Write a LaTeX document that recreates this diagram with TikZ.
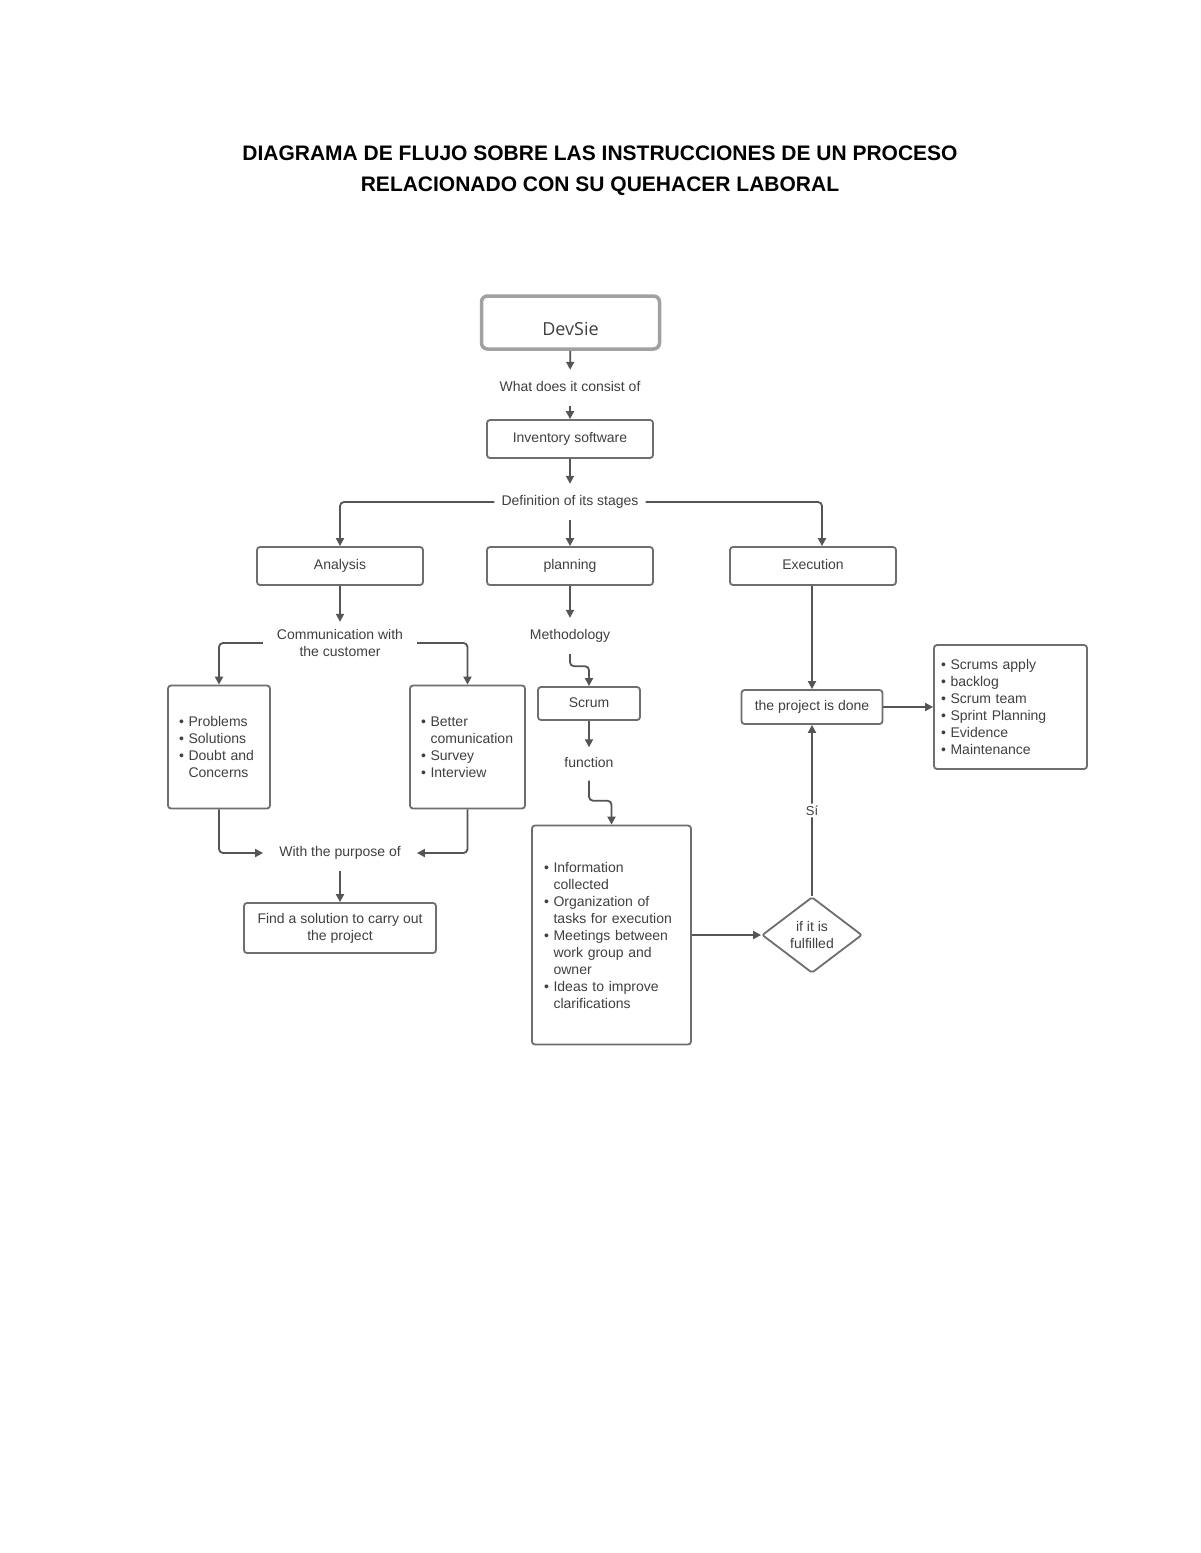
\documentclass[tikz,border=0pt]{standalone}
\usepackage{fontspec}
\setmainfont{Liberation Sans}
\newfontfamily\devfont{Open Sans}
\usetikzlibrary{positioning,arrows.meta,shapes.geometric}
\hyphenpenalty=10000
\definecolor{linegray}{RGB}{85,85,85}
\definecolor{boxgray}{RGB}{110,110,110}
\definecolor{txtgray}{RGB}{64,64,64}
\newcommand{\bul}{\textbullet\ }
\newcommand{\cnt}{\phantom{\textbullet\ }}

\begin{document}
\begin{tikzpicture}[
    x=1pt, y=-1pt,
    >={Triangle[length=8pt,width=8pt]},
    multibox/.style={
      draw=boxgray,
      line width=1.8pt,
      rounded corners=3pt,
      text=txtgray,
      font=\fontsize{14}{17}\selectfont,
      align=center,
      inner sep=0pt
    },
    box/.style={multibox, text height=10pt, text depth=3pt},
    listbox/.style={multibox, align=left},
    multilbl/.style={
      text=txtgray,
      font=\fontsize{14}{17}\selectfont,
      align=center,
      minimum height=36pt,
      inner xsep=7pt
    },
    lbl/.style={multilbl, text height=10pt, text depth=3pt},
    arr/.style={->, draw=linegray, line width=1.8pt, rounded corners=4pt}
  ]
    \path[fill=white, use as bounding box] (0,0) rectangle (1200,1553);

    \node[font=\bfseries\fontsize{21}{31}\selectfont, align=center] (title) at (600,171)
      {DIAGRAMA DE FLUJO SOBRE LAS INSTRUCCIONES DE UN PROCESO\\RELACIONADO CON SU QUEHACER LABORAL};

    \node[box, minimum width=178pt, minimum height=53pt, draw=boxgray!65, line width=3.5pt,
      rounded corners=6pt, font=\devfont\fontsize{18}{20}\selectfont] (devsie) at (570.5,322.5) {\raisebox{-9pt}{DevSie}};
    \node[lbl] (consist) at (570,388) {What does it consist of};
    \node[box, minimum width=166pt, minimum height=38pt] (inventory) at (570,439) {Inventory software};
    \node[lbl] (stages) at (570,502) {Definition of its stages};

    \node[box, minimum width=166pt, minimum height=38pt] (analysis) at (340,566) {Analysis};
    \node[box, minimum width=166pt, minimum height=38pt] (planning) at (570,566) {planning};
    \node[box, minimum width=166pt, minimum height=38pt] (execution) at (813,566) {Execution};

    % analysis branch
    \node[multilbl, minimum height=42pt, inner xsep=14pt] (customer) at (340,643) {Communication with\\the customer};
    \node[listbox, minimum height=123pt, text width=80pt, inner xsep=11pt] (problems) at (219,747)
      {\bul Problems\\\bul Solutions\\\bul Doubt and\\\cnt Concerns};
    \node[listbox, minimum height=123pt, text width=93pt, inner xsep=11pt] (better) at (467.5,747)
      {\bul Better\\\cnt comunication\\\bul Survey\\\bul Interview};
    \node[lbl, inner xsep=16pt] (purpose) at (340,853) {With the purpose of};
    \node[multibox, minimum width=192pt, minimum height=50pt] (solution) at (340,928) {Find a solution to carry out\\the project};

    % planning branch
    \node[lbl] (methodology) at (570,636) {Methodology};
    \node[box, minimum width=102pt, minimum height=33pt] (scrum) at (589,703.5) {Scrum};
    \node[lbl, minimum height=33pt] (function) at (589,764) {function};
    \node[listbox, minimum height=219pt, text width=135pt, inner xsep=12pt] (tasks) at (611.5,935)
      {\bul Information\\\cnt collected\\\bul Organization of\\\cnt tasks for execution\\\bul Meetings between\\\cnt work group and\\\cnt owner\\\bul Ideas to improve\\\cnt clarifications};
    \node[diamond, draw=boxgray, line width=1.8pt, rounded corners=2pt, aspect=1.33, inner sep=0pt,
      minimum width=100pt, minimum height=76pt, text=txtgray, align=center,
      font=\fontsize{14}{17}\selectfont] (fulfilled) at (812,935) {if it is\\fulfilled};

    % execution branch
    \node[box, minimum width=141pt, minimum height=34pt] (done) at (812,707) {the project is done};
    \node[listbox, minimum height=124pt, text width=139pt, inner xsep=7pt] (practices) at (1010.5,707)
      {\bul Scrums apply\\\bul backlog\\\bul Scrum team\\\bul Sprint Planning\\\bul Evidence\\\bul Maintenance};

    \draw[arr] (devsie) -- (consist);
    \draw[arr] (consist) -- (inventory);
    \draw[arr] (inventory) -- (stages);
    \draw[arr] (stages.west) -| (analysis.north);
    \draw[arr] (stages.east) -| ([xshift=9pt]execution.north);
    \draw[arr] (stages) -- (planning);

    \draw[arr] (analysis) -- (customer);
    \draw[arr] (customer.west) -| (problems.north);
    \draw[arr] (customer.east) -| (better.north);
    \draw[arr] (problems.south) |- (purpose.west);
    \draw[arr] (better.south) |- (purpose.east);
    \draw[arr] (purpose) -- (solution);

    \draw[arr] (planning) -- (methodology);
    \draw[arr] (methodology.south) -- ++(0,12) -| (scrum.north);
    \draw[arr] (scrum) -- (function);
    \draw[arr] (function.south) -- ++(0,20) -| (tasks.north);
    \draw[arr] (fulfilled.west -| tasks.east) -- (fulfilled.west);

    \draw[arr] (done.north |- execution.south) -- (done.north);
    \draw[arr] (fulfilled.north) -- node[fill=white, inner sep=2pt, text=txtgray,
      font=\fontsize{13}{15}\selectfont] {Sí} (fulfilled.north |- done.south);
    \draw[arr] (done) -- (practices);
  \end{tikzpicture}
\end{document}
